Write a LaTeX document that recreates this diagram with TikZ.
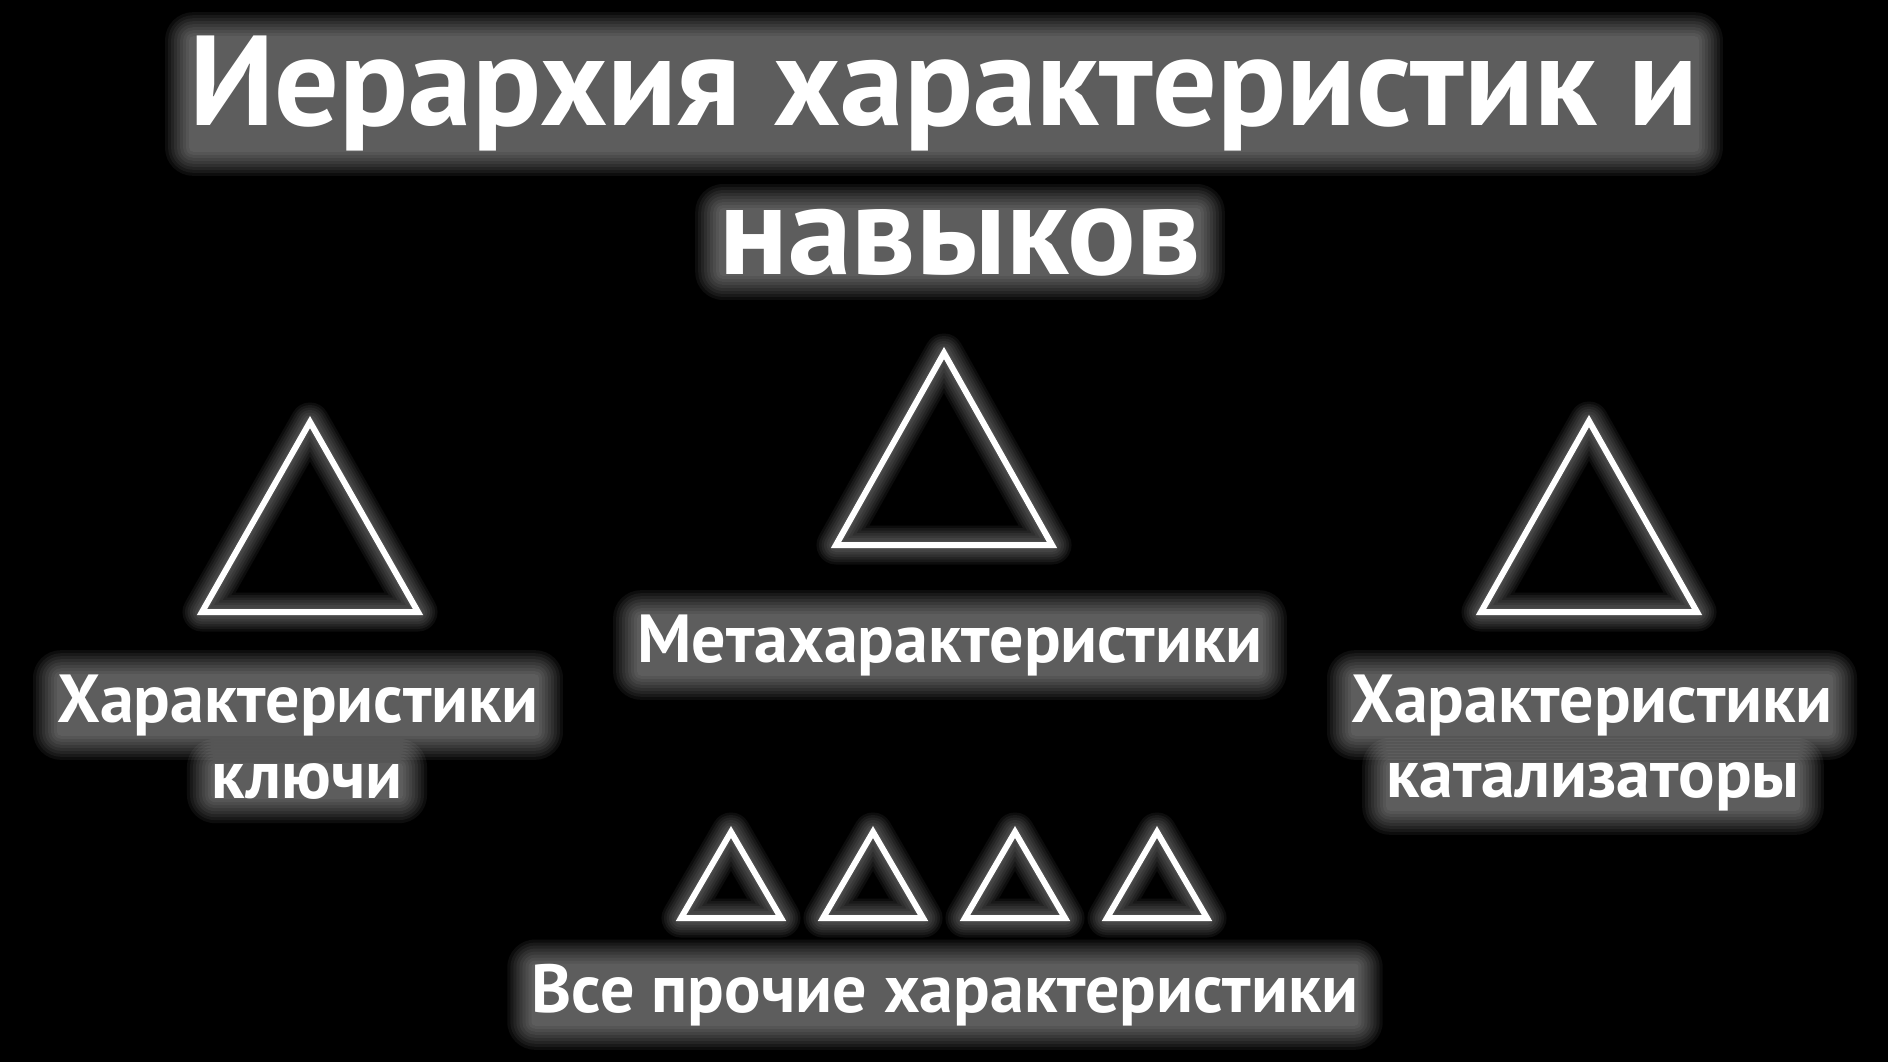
\documentclass[tikz,border=0pt]{standalone}
\usepackage{fontspec}
\setmainfont{PT Sans}
\usetikzlibrary{backgrounds}

% glowing triangle: apex x, apex y, half base, height
\newcommand{\glowtri}[4]{%
  \foreach \w in {9,14,...,39}
    \draw[halo, line width=\w] (#1,#2) -- ++(#3,#4) -- ++(-2*#3,0) -- cycle;
  \draw[tri] (#1,#2) -- ++(#3,#4) -- ++(-2*#3,0) -- cycle;
}

\tikzset{
  halo/.style={white, opacity=.05, line join=round},
  tri/.style={draw=white, line width=6},
  lbl/.style={text=white, inner sep=0pt, anchor=base,
    font=\fontsize{68}{72}\selectfont\bfseries},
  ttl/.style={lbl, font=\fontsize{128}{134}\selectfont\bfseries},
}

\begin{document}
\begin{tikzpicture}[x=1pt,y=-1pt]
        \useasboundingbox (0,0) rectangle (1888,1062);

        % title
        \node[ttl] (title1) at (944,126) {Иерархия характеристик и};
        \node[ttl] (title2) at (960,274) {навыков};

        % big triangles
        \glowtri{310}{422}{108}{190}
        \glowtri{944}{353}{108}{192}
        \glowtri{1589}{421}{108}{191}

        % small triangles
        \foreach \x in {731,873,1015,1157}
          {\glowtri{\x}{832}{50}{86}}

        % labels
        \node[lbl] (meta) at (950,662) {Метахарактеристики};
        \node[lbl] (keys1) at (298,722) {Характеристики};
        \node[lbl] (keys2) at (307,798) {ключи};
        \node[lbl] (cat1) at (1592,722) {Характеристики};
        \node[lbl] (cat2) at (1593,797) {катализаторы};
        \node[lbl] (rest) at (945,1012) {Все прочие характеристики};

        \begin{scope}[on background layer]
          \fill[black] (0,0) rectangle (1888,1062);
          \foreach \n in {title1,title2,meta,keys1,keys2,cat1,cat2,rest}
            \foreach \r in {0,3,...,24}
              \fill[halo, rounded corners=\r pt+4pt]
                ([shift={(-\r,\r)}]\n.south west) rectangle ([shift={(\r,-\r)}]\n.north east);
        \end{scope}
\end{tikzpicture}
\end{document}
